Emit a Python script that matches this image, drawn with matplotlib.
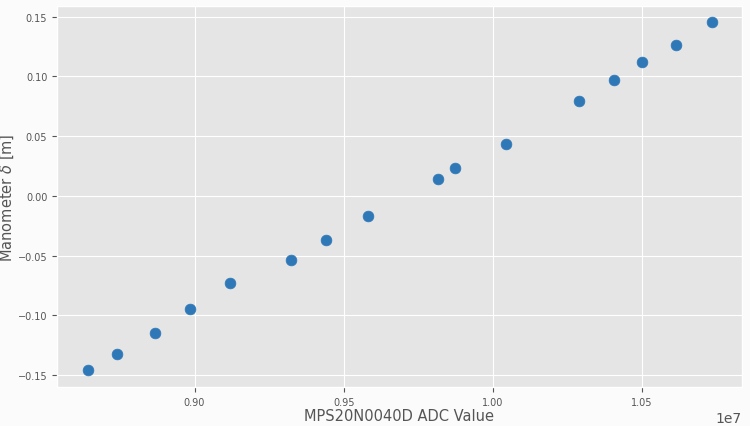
import numpy as np
import matplotlib.pyplot as plt

plt.style.use("ggplot")

adc = [0.8643, 0.8740, 0.8867, 0.8985, 0.9119, 0.9323, 0.9440, 0.9581,
       0.9815, 0.9872, 1.0043, 1.0288, 1.0405, 1.0499, 1.0613, 1.0733]
delta = [-0.1458, -0.1324, -0.1148, -0.0947, -0.0729, -0.0536, -0.0369, -0.0168,
         0.0142, 0.0235, 0.0436, 0.0796, 0.0972, 0.1123, 0.1265, 0.1458]

fig = plt.figure(figsize=(7.5, 4.27), dpi=100, facecolor="#fbfbfb")
ax = fig.add_axes([0.076, 0.091, 0.913, 0.893])
ax.scatter(np.array(adc) * 1e7, delta, s=60, color="#2f78b8", zorder=3)
ax.set_xlim(0.8539e7, 1.0834e7)
ax.set_ylim(-0.16, 0.159)
ax.set_xlabel("MPS20N0040D ADC Value", fontsize=10.5, color="#555555", labelpad=1)
ax.set_ylabel(r"Manometer $\delta$ [m]", fontsize=10.5, color="#555555", labelpad=1)
ax.tick_params(labelsize=7)
fig.savefig("out.png", dpi=100, facecolor=fig.get_facecolor())
